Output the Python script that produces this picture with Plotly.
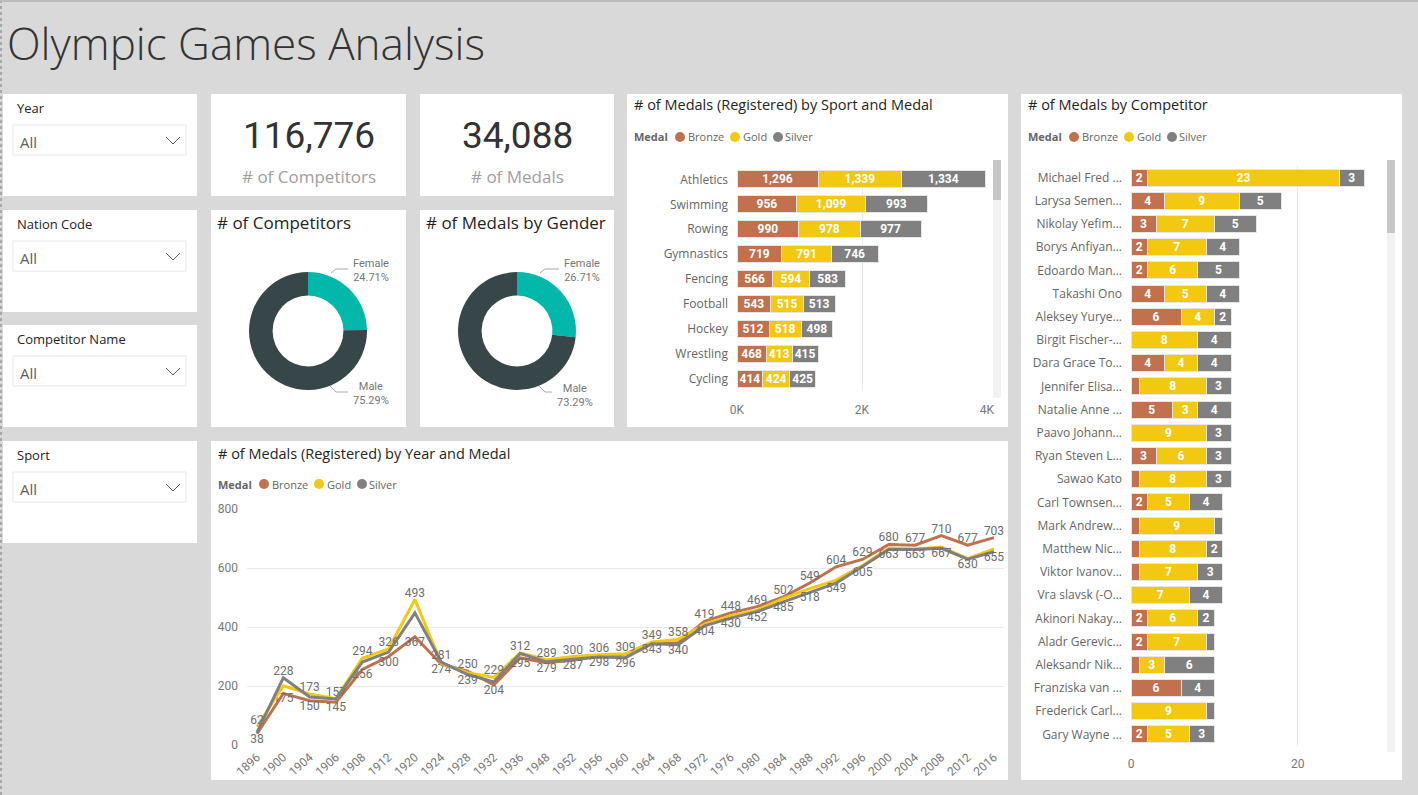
import plotly.graph_objects as go

# ---------------- data ----------------
years = [1896, 1900, 1904, 1906, 1908, 1912, 1920, 1924, 1928, 1932, 1936, 1948, 1952, 1956,
         1960, 1964, 1968, 1972, 1976, 1980, 1984, 1988, 1992, 1996, 2000, 2004, 2008, 2012, 2016]
year_gold = [62, 201, 173, 157, 294, 326, 493, 277, 245, 229, 312, 289, 300, 306,
             309, 349, 358, 410, 438, 457, 497, 530, 559, 608, 667, 664, 671, 632, 665]
year_silver = [43, 228, 163, 156, 281, 315, 448, 281, 239, 214, 310, 282, 291, 298,
               296, 343, 340, 404, 430, 452, 485, 518, 549, 605, 663, 663, 667, 630, 655]
year_bronze = [38, 175, 150, 145, 256, 300, 367, 274, 250, 204, 295, 279, 287, 302,
               308, 346, 347, 419, 448, 469, 502, 549, 604, 629, 680, 677, 710, 677, 703]

sports = ["Athletics", "Swimming", "Rowing", "Gymnastics", "Fencing", "Football", "Hockey", "Wrestling", "Cycling"]
sport_bronze = [1296, 956, 990, 719, 566, 543, 512, 468, 414]
sport_gold = [1339, 1099, 978, 791, 594, 515, 518, 413, 424]
sport_silver = [1334, 993, 977, 746, 583, 513, 498, 415, 425]

competitors = ["Michael Fred ...", "Larysa Semen...", "Nikolay Yefim...", "Borys Anfiyan...", "Edoardo Man...",
               "Takashi Ono", "Aleksey Yurye...", "Birgit Fischer-...", "Dara Grace To...", "Jennifer Elisa...",
               "Natalie Anne ...", "Paavo Johann...", "Ryan Steven L...", "Sawao Kato", "Carl Townsen...",
               "Mark Andrew...", "Matthew Nic...", "Viktor Ivanov...", "Vra slavsk (-O...", "Akinori Nakay...",
               "Aladr Gerevic...", "Aleksandr Nik...", "Franziska van ...", "Frederick Carl...", "Gary Wayne ..."]
comp_bronze = [2, 4, 3, 2, 2, 4, 6, 0, 4, 1, 5, 0, 3, 1, 2, 1, 1, 1, 0, 2, 2, 1, 6, 0, 2]
comp_gold = [23, 9, 7, 7, 6, 5, 4, 8, 4, 8, 3, 9, 6, 8, 5, 9, 8, 7, 7, 6, 7, 3, 0, 9, 5]
comp_silver = [3, 5, 5, 4, 5, 4, 2, 4, 4, 3, 4, 3, 3, 3, 4, 1, 2, 3, 4, 2, 1, 6, 4, 1, 3]

total_competitors = 116776
total_medals = 34088
genders = ["Female", "Male"]
competitors_gender_pct = [24.71, 75.29]
medals_gender_pct = [26.71, 73.29]

slicers = ["Year", "Nation Code", "Competitor Name", "Sport"]
medal_names = ["Bronze", "Gold", "Silver"]

# ---------------- style ----------------
W, H = 1418, 795
BG = "#D9D9D9"
C_BRONZE = "#C1714E"
C_GOLD = "#F2C811"
C_SILVER = "#808080"
C_FEMALE = "#01B8AA"
C_MALE = "#374649"
UI = "Segoe UI, Open Sans, sans-serif"
NUM = "Roboto, DejaVu Sans, sans-serif"
LBL = "#666666"


def px(x):
    return x / W


def py(y):
    return 1 - y / H


shapes = []
annotations = []


def panel(x0, y0, x1, y1):
    shapes.append(dict(type="rect", xref="paper", yref="paper", x0=px(x0), x1=px(x1),
                       y0=py(y1), y1=py(y0), fillcolor="white", line=dict(width=0), layer="below"))


def text(x, y, s, size, color="#252423", family=UI, xanchor="left", yanchor="middle", weight=None):
    f = dict(size=size, color=color, family=family)
    if weight:
        f["weight"] = weight
    annotations.append(dict(xref="paper", yref="paper", x=px(x), y=py(y), text=s, showarrow=False,
                            xanchor=xanchor, yanchor=yanchor, font=f))


def legend(x0, y):
    text(x0 - 1, y, "<b>Medal</b>", 11, LBL)
    offs = [(47, 53), (102, 108), (145, 150)]
    cols = [C_BRONZE, C_GOLD, C_SILVER]
    for (co, to), c, n in zip(offs, cols, medal_names):
        cx = x0 + co
        shapes.append(dict(type="circle", xref="paper", yref="paper", x0=px(cx - 5), x1=px(cx + 5),
                           y0=py(y + 5), y1=py(y - 5), fillcolor=c, line=dict(width=0)))
        text(x0 + to, y, n, 11, LBL)


# page decorations
shapes.append(dict(type="line", xref="paper", yref="paper", x0=px(1), x1=px(1), y0=0, y1=1,
                   line=dict(color="#777777", width=1, dash="dot")))
shapes.append(dict(type="line", xref="paper", yref="paper", x0=0, x1=1, y0=py(1), y1=py(1),
                   line=dict(color="#BBBBBB", width=2)))

text(5, 43, "Olympic Games Analysis", 44, "#333333", family="Segoe UI Light, Open Sans, sans-serif", weight=300)

# slicers
slicer_tops = [94, 210, 325, 441]
for name, t in zip(slicers, slicer_tops):
    panel(3, t, 197, t + 102)
    text(15, t + 14, name, 13, "#252423")
    bx0, by0 = 13, t + 31
    shapes.append(dict(type="rect", xref="paper", yref="paper", x0=px(bx0), x1=px(186),
                       y0=py(by0 + 30), y1=py(by0), fillcolor="white",
                       line=dict(color="#E8E8E8", width=1)))
    text(18, by0 + 17, "All", 15, "#605E5C")
    shapes.append(dict(type="path", xref="paper", yref="paper",
                       path=f"M {px(166)} {py(by0 + 12)} L {px(173)} {py(by0 + 19)} L {px(180)} {py(by0 + 12)}",
                       line=dict(color="#605E5C", width=1)))

# KPI cards
panel(211, 94, 406, 196)
panel(420, 94, 614, 196)
text(309, 136, f"{total_competitors:,}", 37, "#333333", family=NUM, xanchor="center")
text(309, 177, "# of Competitors", 17, "#A0A0A0", xanchor="center")
text(517, 136, f"{total_medals:,}", 37, "#333333", family=NUM, xanchor="center")
text(517, 177, "# of Medals", 17, "#A0A0A0", xanchor="center")

# donut panels
panel(211, 210, 406, 427)
panel(420, 210, 614, 427)
text(215, 223, "# of Competitors", 17, "#252423")
text(424, 223, "# of Medals by Gender", 17, "#252423")

# other panels
panel(627, 94, 1008, 427)
panel(1021, 94, 1402, 780)
panel(211, 441, 1008, 780)

text(632, 105, "# of Medals (Registered) by Sport and Medal", 14.5, "#252423")
legend(633, 137)
text(1026, 105, "# of Medals by Competitor", 14.5, "#252423")
legend(1027, 137)
text(216, 453, "# of Medals (Registered) by Year and Medal", 14.5, "#252423")
legend(217, 484)

# scrollbars
for (x0, x1, t0, t1, th1) in [(993, 1001, 160, 398, 200), (1387, 1395, 160, 752, 233)]:
    shapes.append(dict(type="rect", xref="paper", yref="paper", x0=px(x0), x1=px(x1), y0=py(t1), y1=py(t0),
                       fillcolor="#F2F2F2", line=dict(width=0)))
    shapes.append(dict(type="rect", xref="paper", yref="paper", x0=px(x0), x1=px(x1), y0=py(th1), y1=py(t0),
                       fillcolor="#C6C6C6", line=dict(width=0)))


# donut labels with leader lines
def donut_labels(cx, cy, pcts, fem_pos, male_pos):
    (fx, fy), (mx, my) = fem_pos, male_pos
    text(fx, fy, f"{genders[0]}<br>{pcts[0]:.2f}%", 11, "#777777", family=NUM, yanchor="middle")
    text(mx, my, f"{genders[1]}<br>{pcts[1]:.2f}%", 11, "#777777", family=NUM, yanchor="middle")
    shapes.append(dict(type="path", xref="paper", yref="paper",
                       path=f"M {px(cx + 23)} {py(cy - 58)} L {px(cx + 28)} {py(cy - 62)} L {px(fx - 3)} {py(cy - 62)}",
                       line=dict(color="#AAAAAA", width=1)))
    shapes.append(dict(type="path", xref="paper", yref="paper",
                       path=f"M {px(cx + 22)} {py(cy + 55)} L {px(cx + 28)} {py(cy + 61)} L {px(mx - 3)} {py(cy + 61)}",
                       line=dict(color="#AAAAAA", width=1)))


donut_labels(308, 331, competitors_gender_pct, (351, 271), (351, 393))
donut_labels(517, 331, medals_gender_pct, (562, 271), (555, 395))

fig = go.Figure()

# ---------------- line chart ----------------
xcat = [str(y) for y in years]
series = [("Bronze", year_bronze, C_BRONZE), ("Gold", year_gold, C_GOLD), ("Silver", year_silver, C_SILVER)]
for name, vals, col in series:
    txt, pos = [], []
    for i in range(len(years)):
        trio = [year_bronze[i], year_gold[i], year_silver[i]]
        if vals[i] == max(trio):
            txt.append(str(vals[i]))
            pos.append("top center")
        elif vals[i] == min(trio):
            txt.append(str(vals[i]))
            pos.append("bottom center")
        else:
            txt.append("")
            pos.append("middle center")
    fig.add_trace(go.Scatter(x=xcat, y=vals, name=name, mode="lines+text", text=txt, textposition=pos,
                             line=dict(color=col, width=3), textfont=dict(size=12, color="#6E6E6E", family=NUM),
                             cliponaxis=False, xaxis="x", yaxis="y", hoverinfo="skip", showlegend=False))

# ---------------- sport bars ----------------
for name, vals, col in [("Bronze", sport_bronze, C_BRONZE), ("Gold", sport_gold, C_GOLD), ("Silver", sport_silver, C_SILVER)]:
    fig.add_trace(go.Bar(y=sports, x=vals, orientation="h", name=name,
                         marker=dict(color=col, line=dict(color="#E6E6E6", width=1)),
                         width=0.68, text=[f"{v:,}" for v in vals], textposition="inside", insidetextanchor="middle",
                         textangle=0, textfont=dict(color="white", size=12, family=NUM, weight="bold"),
                         xaxis="x2", yaxis="y2", hoverinfo="skip", showlegend=False))

# ---------------- competitor bars ----------------
for name, vals, col in [("Bronze", comp_bronze, C_BRONZE), ("Gold", comp_gold, C_GOLD), ("Silver", comp_silver, C_SILVER)]:
    fig.add_trace(go.Bar(y=competitors, x=vals, orientation="h", name=name,
                         marker=dict(color=col, line=dict(color="#E6E6E6", width=1)),
                         width=0.74, text=[str(v) if v >= 2 else "" for v in vals], textposition="inside",
                         insidetextanchor="middle", textangle=0,
                         textfont=dict(color="white", size=12, family=NUM, weight="bold"),
                         xaxis="x3", yaxis="y3", hoverinfo="skip", showlegend=False))

# ---------------- donuts ----------------
for (cx, cy), vals in [((308, 331), competitors_gender_pct), ((517, 331), medals_gender_pct)]:
    r = 59
    fig.add_trace(go.Pie(labels=genders, values=vals, hole=0.6, sort=False, direction="clockwise", rotation=0,
                         marker=dict(colors=[C_FEMALE, C_MALE], line=dict(width=0)), textinfo="none",
                         automargin=False,
                         domain=dict(x=[px(cx - r), px(cx + r)], y=[py(cy + r), py(cy - r)]),
                         hoverinfo="skip", showlegend=False))

axis_font = dict(size=12, color="#777777", family=NUM)
fig.update_layout(
    template="none",
    width=W, height=H, margin=dict(l=0, r=0, t=0, b=0, pad=0, autoexpand=False),
    paper_bgcolor=BG, plot_bgcolor="rgba(0,0,0,0)",
    barmode="stack", shapes=shapes, annotations=annotations, showlegend=False,
    uniformtext=dict(minsize=12, mode="show"),
    font=dict(family=UI),
    xaxis=dict(domain=[px(247), px(1004)], type="category", range=[-0.38, 28.38], tickangle=-42,
               tickfont=axis_font, showgrid=False, zeroline=False, showline=False, ticks="", anchor="y",
               ticklabelstandoff=2, automargin=False, fixedrange=True),
    yaxis=dict(domain=[py(745), py(509)], range=[0, 800], tickvals=[0, 200, 400, 600, 800],
               tickfont=axis_font, showgrid=True, gridcolor="#EAEAEA", gridwidth=1, zeroline=False, showline=False,
               ticks="", ticklabelstandoff=8, anchor="x", automargin=False, fixedrange=True),
    xaxis2=dict(domain=[px(737), px(987)], range=[0, 4000], tickvals=[0, 2000, 4000],
                ticktext=[f"{v // 1000}K" for v in [0, 2000, 4000]], tickfont=axis_font, ticks="",
                showgrid=True, gridcolor="#EAEAEA", zeroline=False, showline=False, anchor="y2",
                ticklabelstandoff=10, automargin=False, fixedrange=True),
    yaxis2=dict(domain=[py(391), py(167)], type="category", autorange="reversed", ticks="",
                tickfont=dict(size=12, color=LBL, family=UI), showgrid=False, zeroline=False, showline=False,
                ticklabelstandoff=8, anchor="x2", automargin=False, fixedrange=True),
    xaxis3=dict(domain=[px(1131), px(1381)], range=[0, 30], tickvals=[0, 20], tickfont=axis_font, ticks="",
                showgrid=True, gridcolor="#EAEAEA", zeroline=False, showline=False, anchor="y3",
                ticklabelstandoff=9, automargin=False, fixedrange=True),
    yaxis3=dict(domain=[py(746), py(166)], type="category", autorange="reversed", ticks="",
                tickfont=dict(size=12, color=LBL, family=UI), showgrid=False, zeroline=False, showline=False,
                ticklabelstandoff=8, anchor="x3", automargin=False, fixedrange=True),
)

fig.write_html("out.html", config={"displayModeBar": False},
               post_script="document.body.style.margin='0';document.body.style.overflow='hidden';")
